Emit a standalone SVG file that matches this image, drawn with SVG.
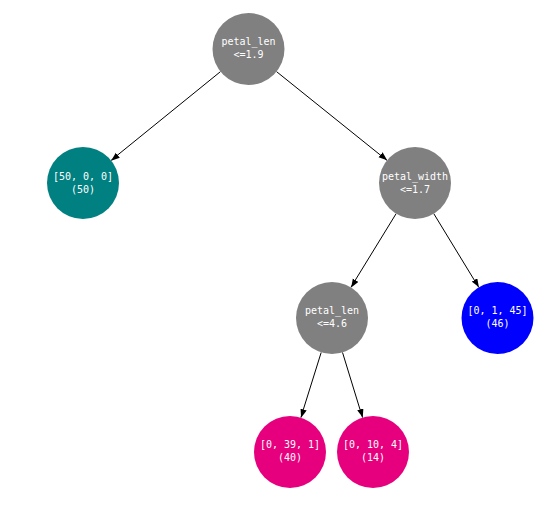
<svg xmlns="http://www.w3.org/2000/svg" width="548" height="518" viewBox="0 0 548 518">
<defs>
<marker id="arr" markerWidth="9" markerHeight="7" refX="8.5" refY="3.5" orient="auto" markerUnits="userSpaceOnUse">
<path d="M0,0 L8.5,3.2 L0,6.4 z" fill="#000"/>
</marker>
<style>
.e{stroke:#000;stroke-width:1;fill:none;marker-end:url(#arr)}
.n text{font-family:"DejaVu Sans Mono","Liberation Mono",monospace;font-size:10px;fill:#fff;text-anchor:middle}
.g{fill:#808080}.t{fill:#008080}.b{fill:#0000ff}.p{fill:#e6007e}
</style>
</defs>
<rect width="548" height="518" fill="#fff"/>
<g id="edges">
<line class="e" x1="220.5" y1="71.6" x2="111" y2="160.4"/>
<line class="e" x1="276.5" y1="71.6" x2="387" y2="160.4"/>
<line class="e" x1="396.1" y1="213.7" x2="350.9" y2="287.3"/>
<line class="e" x1="433.8" y1="213.7" x2="478.7" y2="287.3"/>
<line class="e" x1="321.2" y1="352.4" x2="300.8" y2="417.6"/>
<line class="e" x1="342.5" y1="352.4" x2="362.5" y2="417.6"/>
</g>
<g id="n0" class="n"><circle class="g" cx="248.5" cy="49" r="36"/><text x="248.5" y="45">petal_len</text><text x="248.5" y="58">&lt;=1.9</text></g>
<g id="n1" class="n"><circle class="t" cx="83" cy="183" r="36"/><text x="83" y="180">[50, 0, 0]</text><text x="83" y="193">(50)</text></g>
<g id="n2" class="n"><circle class="g" cx="415" cy="183" r="36"/><text x="415" y="180">petal_width</text><text x="415" y="193">&lt;=1.7</text></g>
<g id="n3" class="n"><circle class="g" cx="332" cy="318" r="36"/><text x="332" y="314">petal_len</text><text x="332" y="327">&lt;=4.6</text></g>
<g id="n4" class="n"><circle class="b" cx="497.5" cy="318" r="36"/><text x="497.5" y="314">[0, 1, 45]</text><text x="497.5" y="327">(46)</text></g>
<g id="n5" class="n"><circle class="p" cx="290" cy="452" r="36"/><text x="290" y="448">[0, 39, 1]</text><text x="290" y="461">(40)</text></g>
<g id="n6" class="n"><circle class="p" cx="373" cy="452" r="36"/><text x="373" y="448">[0, 10, 4]</text><text x="373" y="461">(14)</text></g>
</svg>
